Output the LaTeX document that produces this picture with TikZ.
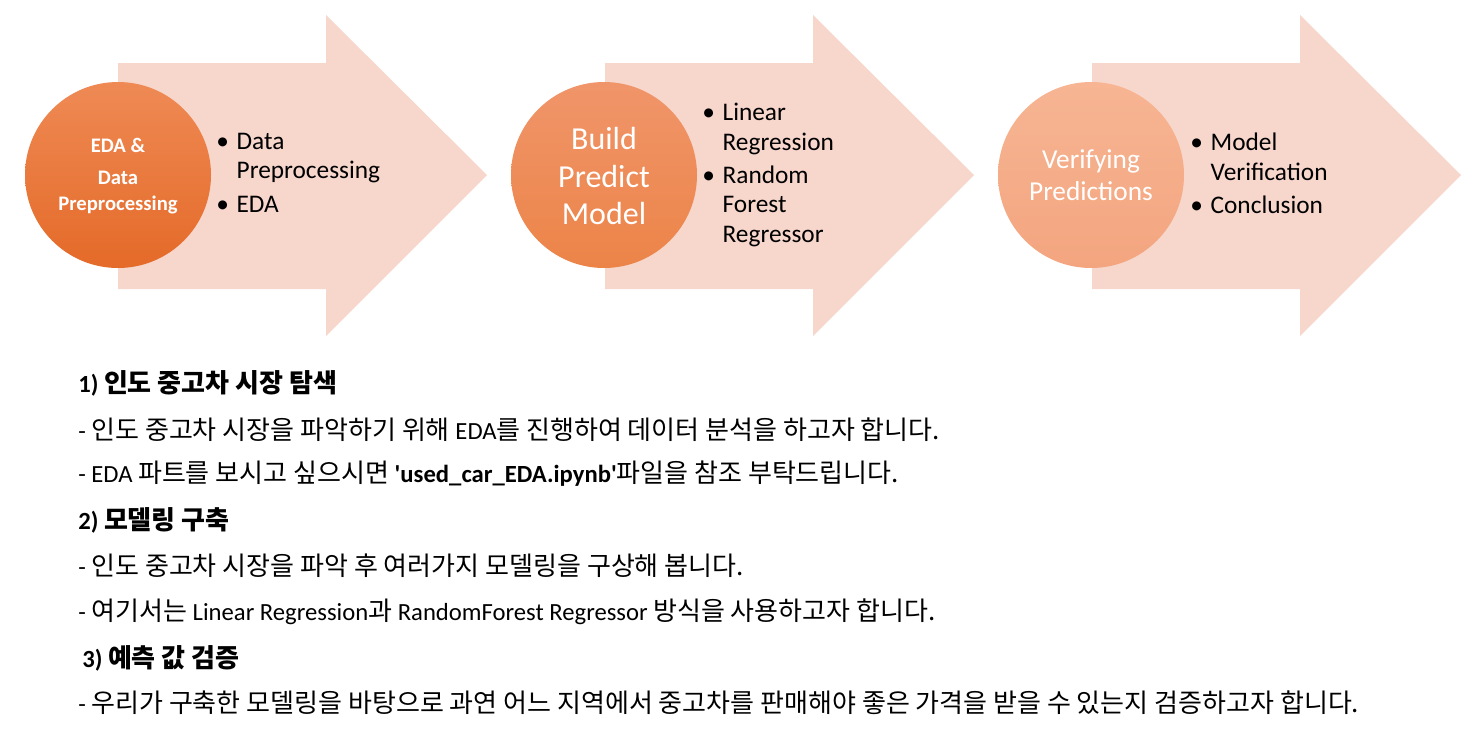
\documentclass[tikz,border=0pt]{standalone}
\usepackage{fontspec}
\setmainfont{Carlito}
\newfontfamily\kr[Scale=1.055]{Noto Sans CJK KR}
\begin{document}
\begin{tikzpicture}[x=0.75pt,y=-0.75pt,
  ctext/.style={text=white,align=center},
  bul/.style={anchor=north west,align=left,font=\fontsize{19}{22}\selectfont,inner sep=0pt},
  ln/.style={anchor=west,inner sep=0pt,font=\fontsize{18.5}{20}\selectfont}]
\definecolor{arrowc}{HTML}{F7D6CC}
\definecolor{c1a}{HTML}{EF8A55}\definecolor{c1b}{HTML}{E46A28}
\definecolor{c2a}{HTML}{F0956A}\definecolor{c2b}{HTML}{EC8448}
\definecolor{c3a}{HTML}{F7B593}\definecolor{c3b}{HTML}{F3A57F}
\useasboundingbox (0,0) rectangle (1479,747);
\foreach \o in {0,487,974}{
  \fill[arrowc] (118+\o,63) -- (326+\o,63) -- (326+\o,15) -- (487+\o,175) -- (326+\o,336) -- (326+\o,289) -- (118+\o,289) -- cycle;}
\shade[top color=c1a,bottom color=c1b] (118,175) circle[radius=93];
\shade[top color=c2a,bottom color=c2b] (604,175) circle[radius=93];
\shade[top color=c3a,bottom color=c3b] (1091,175) circle[radius=93];
\node[ctext,font=\fontsize{15.5}{19}\selectfont\bfseries] (c1) at (118,176) {EDA \&\\[5pt]Data\\Preprocessing};
\node[ctext,font=\fontsize{24}{28}\selectfont] (c2) at (604,176) {Build\\Predict\\Model};
\node[ctext,font=\fontsize{20.5}{24}\selectfont] (c3) at (1091,175) {Verifying\\Predictions};
\newcommand{\bl}{\makebox[11pt][l]{\textbullet}}
\newcommand{\bs}{\hspace*{11pt}}
\node[bul] (b1) at (216,133) {\bl\ Data\\\bs\ Preprocessing\\[3pt]\bl\ EDA};
\node[bul] (b2) at (702,103) {\bl\ Linear\\\bs\ Regression\\[3pt]\bl\ Random\\\bs\ Forest\\\bs\ Regressor};
\node[bul] (b3) at (1190,133) {\bl\ Model\\\bs\ Verification\\[3pt]\bl\ Conclusion};
\node[ln,font=\fontsize{18.5}{20}\selectfont\bfseries] (t1) at (78,383) {1) {\kr 인도 중고차 시장 탐색}};
\node[ln] (t2) at (78,430) {- {\kr 인도 중고차 시장을 파악하기 위해} EDA{\kr 를 진행하여 데이터 분석을 하고자 합니다.}};
\node[ln] (t3) at (78,474) {- EDA {\kr 파트를 보시고 싶으시면} \textbf{\textquotesingle used\_car\_EDA.ipynb\textquotesingle}{\kr 파일을 참조 부탁드립니다.}};
\node[ln,font=\fontsize{18.5}{20}\selectfont\bfseries] (t4) at (78,520) {2) {\kr 모델링 구축}};
\node[ln] (t5) at (78,566) {- {\kr 인도 중고차 시장을 파악 후 여러가지 모델링을 구상해 봅니다.}};
\node[ln] (t6) at (78,612) {- {\kr 여기서는} Linear Regression{\kr 과} RandomForest Regressor {\kr 방식을 사용하고자 합니다.}};
\node[ln,font=\fontsize{18.5}{20}\selectfont\bfseries] (t7) at (82,658) {3) {\kr 예측 값 검증}};
\node[ln] (t8) at (78,703) {- {\kr 우리가 구축한 모델링을 바탕으로 과연 어느 지역에서 중고차를 판매해야 좋은 가격을 받을 수 있는지 검증하고자 합니다.}};
\end{tikzpicture}
\end{document}
